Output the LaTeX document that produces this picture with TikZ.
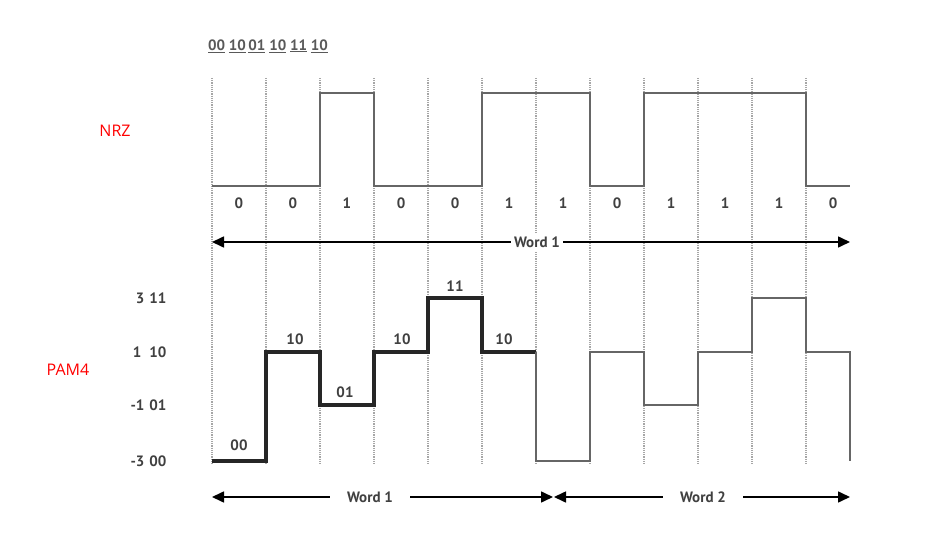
\documentclass[tikz,border=0pt]{standalone}
\usepackage{fontspec}
\setmainfont{PT Sans}
\newfontfamily\redf{Open Sans}
\usetikzlibrary{arrows.meta}
\begin{document}
\begin{tikzpicture}[x=1pt,y=-1pt,
  grid/.style={gray!70,densely dotted,line width=1.2pt},
  sig/.style={gray!80!black,line width=1.4pt},
  bold/.style={black!85,line width=3.2pt},
  lbl/.style={font=\fontsize{15}{17}\selectfont\bfseries,text=black!75},
  arr/.style={line width=1.6pt,-{Triangle[length=12pt,width=11pt]}},
  side/.style={font=\fontsize{16}{18}\selectfont\redf,text=red}]
\useasboundingbox (0,0) rectangle (930,548);
\foreach \x in {212,266,...,806} \draw[grid] (\x,78) -- (\x,465);
% NRZ
\draw[sig] (212,186) -- (320,186) -- (320,93) -- (374,93) -- (374,186) -- (482,186) -- (482,93) -- (590,93) -- (590,186) -- (644,186) -- (644,93) -- (806,93) -- (806,186) -- (850,186);
\foreach \b [count=\i from 0] in {0,0,1,0,0,1,1,0,1,1,1,0}
  \node[lbl] (b\i) at (239+54*\i,203) {\b};
\node[lbl,fill=white] (w0) at (537,242) {Word 1};
\coordinate (wl) at (212,242); \coordinate (wr) at (850,242);
\draw[arr] (w0.west) -- (wl);
\draw[arr] (w0.east) -- (wr);
% top bits
\node[lbl,text=black!65] (top) at (268,46) {\underline{00} \underline{10}\,\underline{01} \underline{10} \underline{11} \underline{10}};
% PAM4 levels
\node[lbl,anchor=east] (l3) at (170,298) {3\hspace{5pt}11};
\node[lbl,anchor=east] (l1) at (170,352) {1\hspace{8pt}10};
\node[lbl,anchor=east] (lm1) at (170,405) {-1\hspace{5pt}01};
\node[lbl,anchor=east] (lm3) at (170,461) {-3\hspace{5pt}00};
\draw[bold] (212,461) -- (266,461) -- (266,352) -- (320,352) -- (320,405) -- (374,405) -- (374,352) -- (428,352) -- (428,298) -- (482,298) -- (482,352) -- (536,352);
\draw[sig] (536,352) -- (536,461) -- (590,461) -- (590,352) -- (644,352) -- (644,405) -- (698,405) -- (698,352) -- (752,352) -- (752,298) -- (806,298) -- (806,352) -- (850,352) -- (850,461);
\node[lbl] (s1) at (239,445) {00};
\node[lbl] (s2) at (295,339) {10};
\node[lbl] (s3) at (345,392) {01};
\node[lbl] (s4) at (402,339) {10};
\node[lbl] (s5) at (455,286) {11};
\node[lbl] (s6) at (504,339) {10};
% words
\node[lbl] (wa) at (370,497) {Word 1};
\node[lbl] (wb) at (703,497) {Word 2};
\coordinate (a1) at (212,497); \coordinate (a2) at (553,497); \coordinate (a3) at (554,497); \coordinate (a4) at (850,497);
\draw[arr] ([xshift=-14pt]wa.west) -- (a1);
\draw[arr] ([xshift=14pt]wa.east) -- (a2);
\draw[arr] ([xshift=-14pt]wb.west) -- (a3);
\draw[arr] ([xshift=14pt]wb.east) -- (a4);
\node[side] (nrz) at (115,131) {NRZ};
\node[side] (pam) at (68,370) {PAM4};
\end{tikzpicture}
\end{document}
